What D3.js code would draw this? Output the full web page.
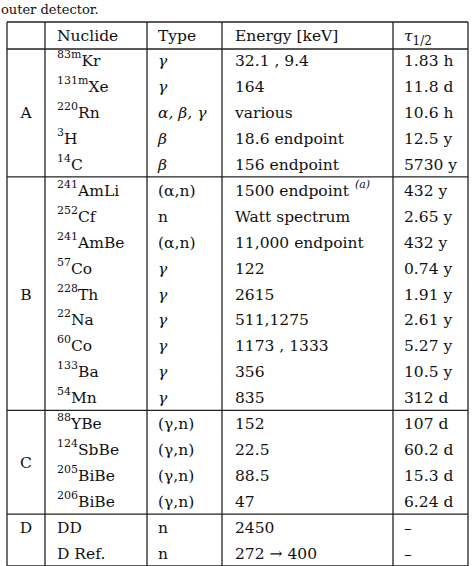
<!DOCTYPE html>
<html><head><meta charset="utf-8">
<script src="https://cdn.jsdelivr.net/npm/d3@7"></script>
<style>body{margin:0;background:#fff}text{font-family:"DejaVu Serif",serif;fill:#111}</style>
</head><body><svg id="t" width="474" height="566"></svg>
<script>
const groups = ["A","B","C","D"];
const groupSizes = [5, 9, 4, 2];
const isoMass = ["83m","131m","220","3","14","241","252","241","57","228","22","60","133","54","88","124","205","206","",""];
const nuclides = ["Kr","Xe","Rn","H","C","AmLi","Cf","AmBe","Co","Th","Na","Co","Ba","Mn","YBe","SbBe","BiBe","BiBe","DD","D Ref."];
const types = ["γ","γ","α, β, γ","β","β","(α,n)","n","(α,n)","γ","γ","γ","γ","γ","γ","(γ,n)","(γ,n)","(γ,n)","(γ,n)","n","n"];
const energies = ["32.1 , 9.4","164","various","18.6 endpoint","156 endpoint","1500 endpoint","Watt spectrum","11,000 endpoint","122","2615","511,1275","1173 , 1333","356","835","152","22.5","88.5","47","2450","272 → 400"];
const halfLives = ["1.83 h","11.8 d","10.6 h","12.5 y","5730 y","432 y","2.65 y","432 y","0.74 y","1.91 y","2.61 y","5.27 y","10.5 y","312 d","107 d","60.2 d","15.3 d","6.24 d","–","–"];
const colEdges = [7, 45, 147, 222, 393, 468];

const svg = d3.select("#t");
const y = d3.scaleLinear().domain([0, 19]).range([66, 559]);
const fs = 15.5;

svg.append("text").attr("x", 1).attr("y", 14).style("font-size", "13px").text("outer detector.");

// header
const hdr = svg.append("g").style("font-size", fs + "px");
hdr.append("text").attr("x", 57).attr("y", 41).text("Nuclide");
hdr.append("text").attr("x", 158).attr("y", 41).text("Type");
hdr.append("text").attr("x", 235).attr("y", 41).text("Energy [keV]");
const tau = hdr.append("text").attr("x", 404).attr("y", 41).style("font-style", "italic").text("τ");
tau.append("tspan").attr("dy", 4).style("font-size", "12px").style("font-style", "normal").text("1/2");

const rows = svg.append("g").style("font-size", fs + "px");
nuclides.forEach((n, i) => {
  const t = rows.append("text").attr("x", 57).attr("y", y(i));
  if (isoMass[i]) t.append("tspan").attr("dy", -8).style("font-size", "11px").text(isoMass[i]);
  t.append("tspan").attr("dy", isoMass[i] ? 8 : 0).text(n);
  rows.append("text").attr("x", 158).attr("y", y(i))
    .style("font-style", types[i].startsWith("(") || types[i] === "n" ? "normal" : "italic").text(types[i]);
  const e = rows.append("text").attr("x", 235).attr("y", y(i)).text(energies[i]);
  if (i === 5) e.append("tspan").attr("dx", 6).attr("dy", -8).style("font-size", "11px").style("font-style", "italic").text("(a)");
  rows.append("text").attr("x", 404).attr("y", y(i)).text(halfLives[i]);
});

// group labels and separators
let start = 0;
const lines = svg.append("g").attr("stroke", "#222").attr("stroke-width", 1.3);
lines.append("line").attr("x1", colEdges[0]).attr("x2", colEdges[5]).attr("y1", 22).attr("y2", 22);
lines.append("line").attr("x1", colEdges[0]).attr("x2", colEdges[5]).attr("y1", 49).attr("y2", 49);
groups.forEach((g, k) => {
  const end = start + groupSizes[k] - 1;
  rows.append("text").attr("x", 26).attr("y", groupSizes[k] > 2 ? (y(start) + y(end)) / 2 : y(start))
    .attr("text-anchor", "middle").text(g);
  const ly = y(end) + 7;
  lines.append("line").attr("x1", colEdges[0]).attr("x2", colEdges[5]).attr("y1", ly).attr("y2", ly);
  start = end + 1;
});
colEdges.forEach(x => lines.append("line").attr("x1", x).attr("x2", x).attr("y1", 22).attr("y2", 566));
</script></body></html>
